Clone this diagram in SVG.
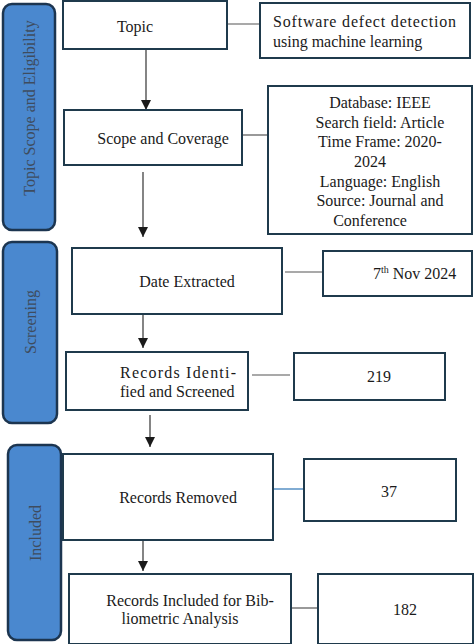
<svg xmlns="http://www.w3.org/2000/svg" width="474" height="644" viewBox="0 0 474 644">
<defs>
<style>
.bar{fill:#4a88cf;stroke:#1c3550;stroke-width:2.5}
.bt{font-family:"Liberation Serif","Times New Roman",serif;font-size:16px;fill:#3e4c5e;text-anchor:middle;dominant-baseline:central}
.box{fill:#fff;stroke:#1f3a4c;stroke-width:2}
.t{font-family:"Liberation Serif","Times New Roman",serif;font-size:16px;fill:#1a1a1a}
.c{text-anchor:middle}
.ln{stroke:#555;stroke-width:1.2;fill:none}
.ar{stroke:#333;stroke-width:1.2;fill:none;marker-end:url(#ah)}
</style>
<marker id="ah" viewBox="0 0 10 10" refX="10" refY="5" markerWidth="10" markerHeight="10" markerUnits="userSpaceOnUse" orient="auto">
<path d="M0,0 L10,5 L0,10 Z" fill="#1a1a1a"/>
</marker>
</defs>

<g id="bar-topic">
<rect class="bar" x="3" y="4" width="52" height="226" rx="9"/>
<text class="bt" transform="translate(29,108) rotate(-90)">Topic Scope and Eligibility</text>
</g>
<g id="bar-screening">
<rect class="bar" x="3" y="242" width="54" height="181" rx="9"/>
<text class="bt" transform="translate(30,322) rotate(-90)">Screening</text>
</g>
<g id="bar-included">
<rect class="bar" x="8" y="445" width="53" height="195" rx="9"/>
<text class="bt" transform="translate(35,533) rotate(-90)">Included</text>
</g>

<g id="connectors">
<line class="ln" x1="227" y1="24" x2="260" y2="24"/>
<line class="ln" x1="242" y1="135" x2="268" y2="135"/>
<line class="ln" x1="285" y1="272" x2="323" y2="272"/>
<line class="ln" x1="252" y1="375" x2="290" y2="375"/>
<line x1="273" y1="489" x2="304" y2="489" stroke="#2e75b6" stroke-width="1.2"/>
<line class="ln" x1="291" y1="608" x2="318" y2="608"/>
<line class="ar" x1="146" y1="46" x2="146" y2="110"/>
<line class="ar" x1="143" y1="172" x2="143" y2="237"/>
<line class="ar" x1="143" y1="314" x2="143" y2="348"/>
<line class="ar" x1="150" y1="415" x2="150" y2="447" stroke="#777"/>
<line class="ar" x1="143" y1="537" x2="143" y2="571"/>
</g>

<g id="topic">
<rect class="box" x="63" y="1" width="164" height="48"/>
<text class="t c" x="135" y="32">Topic</text>
</g>
<g id="topic-detail">
<rect class="box" x="260" y="3" width="210" height="55"/>
<text class="t" x="273" y="27" textLength="183" lengthAdjust="spacing">Software defect detection</text>
<text class="t" x="273" y="47">using machine learning</text>
</g>

<g id="scope">
<rect class="box" x="64" y="110" width="178" height="55"/>
<text class="t c" x="163" y="144">Scope and Coverage</text>
</g>
<g id="scope-detail">
<rect class="box" x="268" y="86" width="204" height="148"/>
<text class="t c" x="380" y="108">Database: IEEE</text>
<text class="t c" x="380" y="128">Search field: Article</text>
<text class="t c" x="380" y="147">Time Frame: 2020-</text>
<text class="t c" x="370" y="167">2024</text>
<text class="t c" x="380" y="187">Language: English</text>
<text class="t c" x="380" y="206">Source: Journal and</text>
<text class="t c" x="370" y="226">Conference</text>
</g>

<g id="date-extracted">
<rect class="box" x="72" y="248" width="210" height="66"/>
<text class="t c" x="187" y="287">Date Extracted</text>
</g>
<g id="date-value">
<rect class="box" x="323" y="251" width="149" height="45"/>
<text class="t" x="373" y="279">7<tspan font-size="10" dy="-6">th</tspan><tspan dy="6"> Nov 2024</tspan></text>
</g>

<g id="records-identified">
<rect class="box" x="66" y="352" width="182" height="58"/>
<text class="t" x="120" y="378" textLength="116" lengthAdjust="spacing">Records Identi-</text>
<text class="t" x="120" y="397">fied and Screened</text>
</g>
<g id="identified-value">
<rect class="box" x="294" y="353" width="151" height="47"/>
<text class="t c" x="379" y="382">219</text>
</g>

<g id="records-removed">
<rect class="box" x="63" y="454" width="210" height="86"/>
<text class="t c" x="178" y="503">Records Removed</text>
</g>
<g id="removed-value">
<rect class="box" x="304" y="459" width="152" height="62"/>
<text class="t c" x="389" y="497">37</text>
</g>

<g id="records-included">
<rect class="box" x="69" y="574" width="222" height="70"/>
<text class="t c" x="190" y="606">Records Included for Bib-</text>
<text class="t c" x="180" y="624">liometric Analysis</text>
</g>
<g id="included-value">
<rect class="box" x="318" y="574" width="155" height="70"/>
<text class="t c" x="405" y="615">182</text>
</g>
</svg>
